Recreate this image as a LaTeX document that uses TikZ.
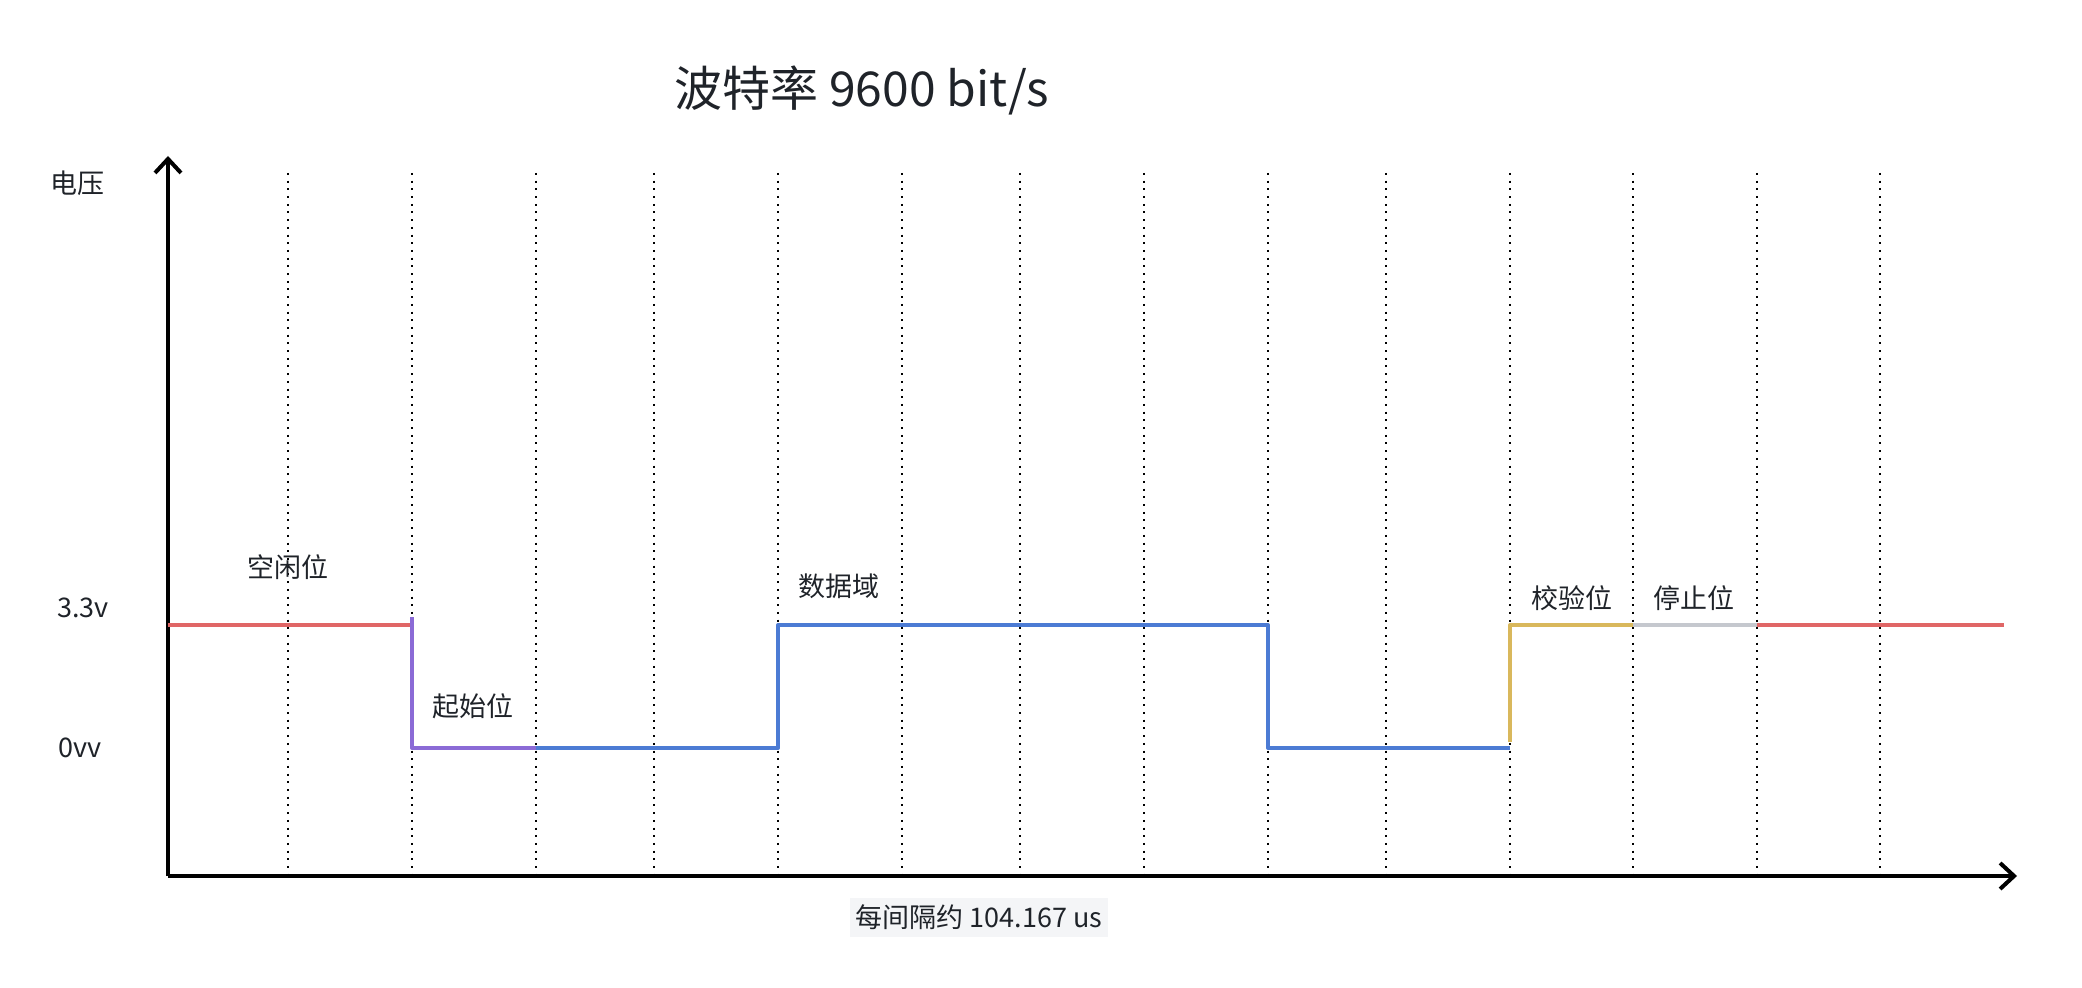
\documentclass[tikz,border=0pt]{standalone}
\usepackage{fontspec}
\setmainfont{Noto Sans CJK SC}
\usetikzlibrary{arrows.meta}
\definecolor{txt}{HTML}{1F2329}
\definecolor{sigred}{HTML}{E06666}
\definecolor{sigpurple}{HTML}{8B6BD6}
\definecolor{sigblue}{HTML}{4C7BD4}
\definecolor{siggold}{HTML}{D9B85C}
\definecolor{siggray}{HTML}{C5C8CE}
\definecolor{boxbg}{HTML}{F4F5F7}
\tikzset{
  axisline/.style={line width=2pt, black, -{Straight Barb[length=7pt,width=13pt,line width=2pt]}},
  gridline/.style={line width=1pt, black, dash pattern=on 1pt off 2.85pt},
  sig/.style={line width=2pt, line join=round},
  lbl/.style={font=\fontsize{13.5pt}{16pt}\selectfont, text=txt, inner sep=0pt},
}
\begin{document}
\begin{tikzpicture}[x=0.5pt,y=-0.5pt]
\useasboundingbox (0,0) rectangle (2082,988);
% grid
\foreach \gx in {288,412,535.5,654,778,902,1020,1144,1268,1386,1510,1633,1757,1880}{
  \draw[gridline] (\gx,173) -- (\gx,874);
}
% axes
\coordinate (O) at (168,876);
\coordinate (Ytop) at (168,156);
\coordinate (Xend) at (2017,876);
\draw[axisline] (O) -- (Ytop);
\draw[axisline] (O) -- (Xend);
% signal
\coordinate (s0) at (168,625);
\coordinate (s1) at (412,625);
\coordinate (s2) at (412,748);
\coordinate (s3) at (535.5,748);
\coordinate (s4) at (778,748);
\coordinate (s5) at (778,625);
\coordinate (s6) at (1268,625);
\coordinate (s7) at (1268,748);
\coordinate (s8) at (1510,748);
\coordinate (s9) at (1510,625);
\coordinate (s10) at (1633,625);
\coordinate (s11) at (1757,625);
\coordinate (s12) at (2004,625);
\draw[sig, sigred] (s0) -- (s1);
\draw[sig, sigpurple] (412,617) -- (s2) -- (s3);
\draw[sig, sigblue] (s3) -- (s4) -- (s5) -- (s6) -- (s7) -- (s8);
\draw[sig, siggold] (1510,742) -- (s9) -- (s10);
\draw[sig, siggray] (s10) -- (s11);
\draw[sig, sigred] (s11) -- (s12);
% labels
\node[font=\fontsize{24pt}{28pt}\selectfont, text=txt, inner sep=0pt] (title) at (862,90) {波特率 9600 bit/s};
\node[lbl] (ylab) at (77,183) {电压};
\node[lbl] (hi) at (83,608) {3.3v};
\node[lbl] (lo) at (80,748) {0vv};
\node[lbl] (idle) at (288,567) {空闲位};
\node[lbl] (start) at (473,706) {起始位};
\node[lbl] (data) at (839,586) {数据域};
\node[lbl] (parity) at (1572,598) {校验位};
\node[lbl] (stop) at (1694,598) {停止位};
\node[lbl, fill=boxbg, inner xsep=3pt, minimum height=19.5pt] (interval) at (979,917.5) {每间隔约 104.167 us};
\end{tikzpicture}
\end{document}
